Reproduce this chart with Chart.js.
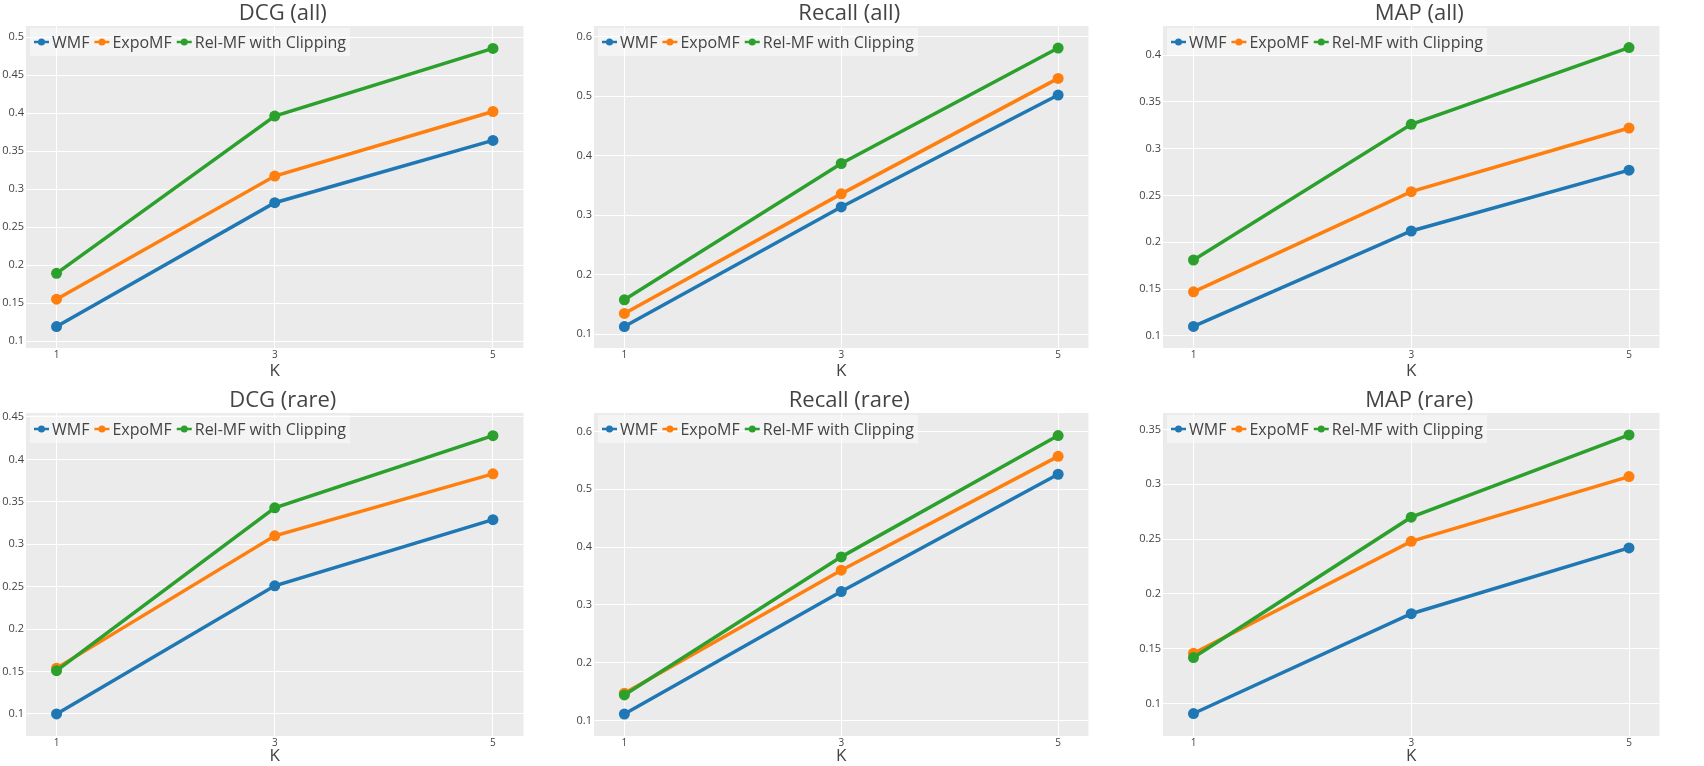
<!DOCTYPE html>
<html lang="en">
<head>
<meta charset="UTF-8" />
<title>DCG / Recall / MAP by K</title>
<script src="https://cdn.jsdelivr.net/npm/chart.js@4.4.1/dist/chart.umd.min.js"></script>
<style>
    body { margin: 0; background: #fff; }
    #wrap { position: relative; width: 1704px; height: 766px; overflow: hidden; }
    #wrap canvas { position: absolute; }
</style>
</head>
<body>
<div id="wrap"></div>
<script>
// x values and series names
const kValues = [1, 3, 5];
const methods = ['WMF', 'ExpoMF', 'Rel-MF with Clipping'];

// one row per method: WMF, ExpoMF, Rel-MF with Clipping
const dcgAll = [
    [0.119, 0.282, 0.364],
    [0.155, 0.317, 0.402],
    [0.189, 0.396, 0.485]
];
const recallAll = [
    [0.113, 0.314, 0.502],
    [0.135, 0.336, 0.530],
    [0.158, 0.387, 0.581]
];
const mapAll = [
    [0.110, 0.212, 0.277],
    [0.147, 0.254, 0.322],
    [0.181, 0.326, 0.408]
];
const dcgRare = [
    [0.100, 0.251, 0.329],
    [0.154, 0.310, 0.383],
    [0.151, 0.343, 0.428]
];
const recallRare = [
    [0.111, 0.323, 0.526],
    [0.147, 0.360, 0.557],
    [0.144, 0.383, 0.593]
];
const mapRare = [
    [0.091, 0.182, 0.242],
    [0.146, 0.248, 0.307],
    [0.142, 0.270, 0.345]
];

// y tick values
const yTicksDcgAll = [0.1, 0.15, 0.2, 0.25, 0.3, 0.35, 0.4, 0.45, 0.5];
const yTicksRecall = [0.1, 0.2, 0.3, 0.4, 0.5, 0.6];
const yTicksMapAll = [0.1, 0.15, 0.2, 0.25, 0.3, 0.35, 0.4];
const yTicksDcgRare = [0.1, 0.15, 0.2, 0.25, 0.3, 0.35, 0.4, 0.45];
const yTicksMapRare = [0.1, 0.15, 0.2, 0.25, 0.3, 0.35];

const colors = ['#1f77b4', '#ff7f0e', '#2ca02c'];
const FONT = '"Open Sans", "Liberation Sans", sans-serif';
const TEXT = '#444';
const PLOT_BG = '#ebebeb';

// layout of the 3x2 grid
const colLeft = [0, 568, 1137];
const colPlotW = [501, 498, 500];
const rowTop = [0, 383];
const rowPadTop = [26, 30];
const rowXAxisH = [35, 30];
const rowKPad = [2, 0];

const panels = [
    { title: 'DCG (all)',     data: dcgAll,     yTicks: yTicksDcgAll,  yMin: 0.0908, yMax: 0.5145, row: 0, col: 0 },
    { title: 'Recall (all)',  data: recallAll,  yTicks: yTicksRecall,  yMin: 0.077,  yMax: 0.618,  row: 0, col: 1 },
    { title: 'MAP (all)',     data: mapAll,     yTicks: yTicksMapAll,  yMin: 0.087,  yMax: 0.431,  row: 0, col: 2 },
    { title: 'DCG (rare)',    data: dcgRare,    yTicks: yTicksDcgRare, yMin: 0.074,  yMax: 0.4547, row: 1, col: 0 },
    { title: 'Recall (rare)', data: recallRare, yTicks: yTicksRecall,  yMin: 0.073,  yMax: 0.632,  row: 1, col: 1 },
    { title: 'MAP (rare)',    data: mapRare,    yTicks: yTicksMapRare, yMin: 0.0705, yMax: 0.365,  row: 1, col: 2 }
];

// plot background, subplot title and the in-plot legend
const panelDecor = {
    id: 'panelDecor',
    beforeDraw(chart) {
        const ca = chart.chartArea, ctx = chart.ctx;
        ctx.save();
        ctx.fillStyle = PLOT_BG;
        ctx.fillRect(ca.left, ca.top, ca.right - ca.left, ca.bottom - ca.top);
        ctx.restore();
    },
    afterDraw(chart, args, opts) {
        const ca = chart.chartArea, ctx = chart.ctx;
        ctx.save();
        // title
        ctx.font = '22px ' + FONT;
        ctx.fillStyle = TEXT;
        ctx.textAlign = 'center';
        ctx.textBaseline = 'middle';
        ctx.fillText(opts.title, (ca.left + ca.right) / 2 + 8, ca.top - 12);

        // legend
        ctx.font = '16px ' + FONT;
        const widths = methods.map(m => ctx.measureText(m).width);
        const symW = 15, gap = 3, itemGap = 5;
        let total = 4;
        widths.forEach((w, i) => { total += symW + gap + w + (i < widths.length - 1 ? itemGap : 0); });
        total += 4;
        const lx = ca.left + 4, ly = ca.top + 2, lh = 28;
        ctx.fillStyle = 'rgba(255,255,255,0.45)';
        ctx.fillRect(lx, ly, total, lh);
        const cy = ly + lh / 2;
        let x = lx + 4;
        methods.forEach((m, i) => {
            ctx.strokeStyle = colors[i];
            ctx.lineWidth = 2.5;
            ctx.beginPath();
            ctx.moveTo(x, cy);
            ctx.lineTo(x + symW, cy);
            ctx.stroke();
            ctx.fillStyle = colors[i];
            ctx.beginPath();
            ctx.arc(x + symW / 2, cy, 3.5, 0, Math.PI * 2);
            ctx.fill();
            ctx.fillStyle = TEXT;
            ctx.textAlign = 'left';
            ctx.fillText(m, x + symW + gap, cy + 1);
            x += symW + gap + widths[i] + itemGap;
        });
        ctx.restore();
    }
};

const wrap = document.getElementById('wrap');

panels.forEach(p => {
    const canvas = document.createElement('canvas');
    const w = 26 + colPlotW[p.col] + 2;
    const h = 383;
    canvas.width = w;
    canvas.height = h;
    canvas.style.left = colLeft[p.col] + 'px';
    canvas.style.top = rowTop[p.row] + 'px';
    canvas.style.width = w + 'px';
    canvas.style.height = h + 'px';
    wrap.appendChild(canvas);

    const datasets = methods.map((m, i) => ({
        label: m,
        data: kValues.map((k, j) => ({ x: k, y: p.data[i][j] })),
        borderColor: colors[i],
        backgroundColor: colors[i],
        borderWidth: 3.5,
        pointRadius: 5.5,
        pointHoverRadius: 5.5,
        pointBorderWidth: 0,
        tension: 0,
        order: methods.length - 1 - i
    }));

    new Chart(canvas, {
        type: 'line',
        data: { datasets: datasets },
        options: {
            responsive: false,
            animation: false,
            layout: { padding: { top: rowPadTop[p.row], right: 2, left: 0, bottom: 0 } },
            plugins: {
                legend: { display: false },
                tooltip: { enabled: false },
                panelDecor: { title: p.title }
            },
            scales: {
                x: {
                    type: 'linear',
                    min: 0.72,
                    max: 5.28,
                    afterBuildTicks: s => { s.ticks = kValues.map(v => ({ value: v })); },
                    afterFit: s => { s.height = rowXAxisH[p.row]; },
                    grid: { color: '#ffffff', lineWidth: 1, drawTicks: false },
                    border: { display: false },
                    ticks: { padding: 1, color: TEXT, font: { family: FONT, size: 10 }, maxRotation: 0, autoSkip: false },
                    title: {
                        display: true, text: 'K', color: TEXT,
                        font: { family: FONT, size: 17 },
                        padding: { top: 0, bottom: rowKPad[p.row] }
                    }
                },
                y: {
                    min: p.yMin,
                    max: p.yMax,
                    afterBuildTicks: s => { s.ticks = p.yTicks.map(v => ({ value: v })); },
                    afterFit: s => { s.width = 26; },
                    grid: { color: '#ffffff', lineWidth: 1, drawTicks: false },
                    border: { display: false },
                    ticks: {
                        padding: 2, color: TEXT, font: { family: FONT, size: 11 },
                        callback: v => String(+Number(v).toFixed(2))
                    }
                }
            }
        },
        plugins: [panelDecor]
    });
});
</script>
</body>
</html>
